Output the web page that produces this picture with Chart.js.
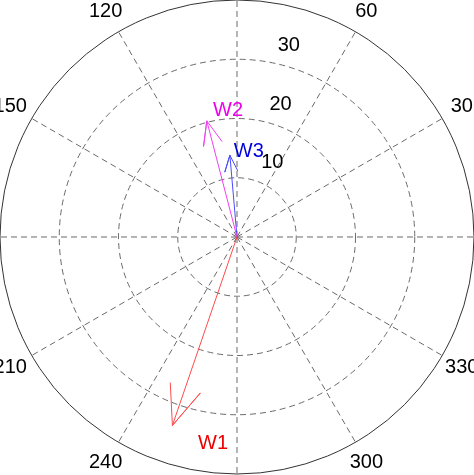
<!DOCTYPE html>
<html>
<head>
<meta charset="utf-8">
<title>Compass plot</title>
<script src="https://cdn.jsdelivr.net/npm/chart.js@4.4.1/dist/chart.umd.min.js"></script>
<style>
  html, body { margin: 0; padding: 0; background: #fff; overflow: hidden; }
  #compass { display: block; }
</style>
</head>
<body>
<canvas id="compass" width="474" height="475"></canvas>
<script>
// vector names and components (east / north)
const names = ['W1', 'W2', 'W3'];
const uComp = [-10.9, -5.1, -1.2];
const vComp = [-31.8, 19.6, 13.8];
const lineColors = ['#ff4a4a', '#f040f0', '#4a4aff'];
const textColors = ['#ee0000', '#ee00ee', '#0000dd'];

// where each name sits (data units)
const nameX = [-4.05, -1.5, 2.0];
const nameY = [-34.8, 21.4, 14.5];

// polar grid
const rings = [10, 20, 30];
const outerR = 40;
const spokeAngles = [0, 30, 60, 90, 120, 150, 180, 210, 240, 270, 300, 330];

// matlab style arrow: 0 -> z -> barb -> z -> barb
function arrowPoints(u, v) {
  return [
    { x: 0, y: 0 },
    { x: u, y: v },
    { x: 0.8 * u - 0.08 * v, y: 0.8 * v + 0.08 * u },
    { x: u, y: v },
    { x: 0.8 * u + 0.08 * v, y: 0.8 * v - 0.08 * u }
  ];
}

const datasets = names.map((n, i) => ({
  label: n,
  data: arrowPoints(uComp[i], vComp[i]),
  showLine: true,
  borderColor: lineColors[i],
  borderWidth: 1,
  pointRadius: 0,
  fill: false
}));

const FONT = '20px "Liberation Sans", Arial, sans-serif';

// grid + labels drawn on the chart's own scales
const polarGrid = {
  id: 'polarGrid',
  beforeDatasetsDraw(chart) {
    const ctx = chart.ctx;
    const xs = chart.scales.x, ys = chart.scales.y;
    const cx = xs.getPixelForValue(0), cy = ys.getPixelForValue(0);
    const pxPerUnit = xs.getPixelForValue(1) - cx;
    ctx.save();
    ctx.strokeStyle = '#6a6a6a';
    ctx.lineWidth = 1;
    ctx.setLineDash([6, 4]);
    rings.forEach(r => {
      ctx.beginPath();
      ctx.arc(cx, cy, r * pxPerUnit, 0, Math.PI * 2);
      ctx.stroke();
    });
    spokeAngles.forEach(a => {
      const t = a * Math.PI / 180;
      ctx.beginPath();
      ctx.moveTo(cx, cy);
      ctx.lineTo(xs.getPixelForValue(outerR * Math.cos(t)), ys.getPixelForValue(outerR * Math.sin(t)));
      ctx.stroke();
    });
    ctx.setLineDash([]);
    ctx.strokeStyle = '#333';
    ctx.beginPath();
    ctx.arc(cx, cy, outerR * pxPerUnit, 0, Math.PI * 2);
    ctx.stroke();

    // ring labels, along the 82 degree line like matlab
    ctx.fillStyle = '#000';
    ctx.font = FONT;
    ctx.textAlign = 'left';
    ctx.textBaseline = 'middle';
    const c82 = Math.cos(82 * Math.PI / 180), s82 = Math.sin(82 * Math.PI / 180);
    rings.forEach(r => {
      ctx.fillText(String(r), xs.getPixelForValue(r * c82 + 2.7), ys.getPixelForValue(r * s82 + 2.6));
    });

    // angle labels, outside the rim (partly off the canvas)
    ctx.textAlign = 'center';
    spokeAngles.forEach(a => {
      const t = a * Math.PI / 180;
      const rr = outerR * 1.1;
      ctx.fillText(String(a), xs.getPixelForValue(rr * Math.cos(t)) - 1, ys.getPixelForValue(rr * Math.sin(t)));
    });
    ctx.restore();
  },
  afterDatasetsDraw(chart) {
    const ctx = chart.ctx;
    const xs = chart.scales.x, ys = chart.scales.y;
    ctx.save();
    ctx.font = FONT;
    ctx.textAlign = 'center';
    ctx.textBaseline = 'middle';
    names.forEach((n, i) => {
      ctx.fillStyle = textColors[i];
      ctx.fillText(n, xs.getPixelForValue(nameX[i]), ys.getPixelForValue(nameY[i]));
    });
    ctx.restore();
  }
};

new Chart(document.getElementById('compass'), {
  type: 'scatter',
  data: { datasets: datasets },
  options: {
    responsive: false,
    animation: false,
    devicePixelRatio: 1,
    layout: { padding: 0 },
    plugins: {
      legend: { display: false },
      tooltip: { enabled: false }
    },
    scales: {
      x: { type: 'linear', min: -40, max: 40, display: false },
      y: { type: 'linear', min: -40.17, max: 40, display: false }
    }
  },
  plugins: [polarGrid]
});
</script>
</body>
</html>
